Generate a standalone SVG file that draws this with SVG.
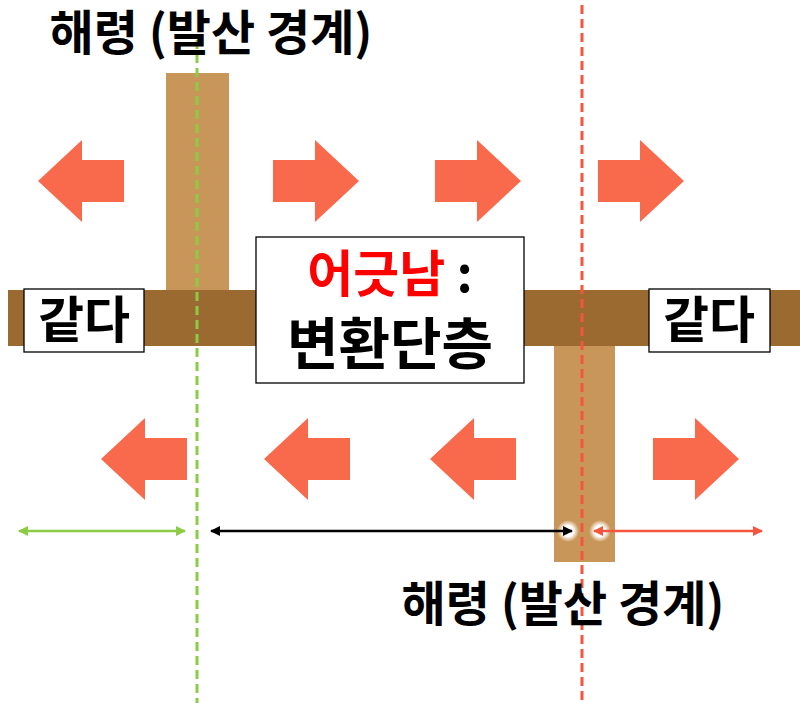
<svg xmlns="http://www.w3.org/2000/svg" width="800" height="703" viewBox="0 0 800 703">
<style>
.t{font-family:"Noto Sans CJK KR","Noto Sans",sans-serif;font-weight:bold;fill:#000}
.ar{fill:#F9694C}
.box{fill:#fff;stroke:#000;stroke-width:1.3}
</style>
<defs>
<marker id="mg" viewBox="0 0 10 10" refX="9" refY="5" markerWidth="4" markerHeight="4" orient="auto-start-reverse"><path d="M0,0L10,5L0,10z" fill="#8CCB46"/></marker>
<marker id="mk" viewBox="0 0 10 10" refX="9" refY="5" markerWidth="4" markerHeight="4" orient="auto-start-reverse"><path d="M0,0L10,5L0,10z" fill="#000"/></marker>
<marker id="mr" viewBox="0 0 10 10" refX="9" refY="5" markerWidth="4" markerHeight="4" orient="auto-start-reverse"><path d="M0,0L10,5L0,10z" fill="#F4553F"/></marker>
<radialGradient id="gl"><stop offset="0.5" stop-color="#fff"/><stop offset="1" stop-color="#fff" stop-opacity="0"/></radialGradient>
<path id="R" d="M0,-21H42V-41L86,0L42,41V21H0z"/>
<path id="L" d="M86,-21H44V-41L0,0L44,41V21H86z"/>
</defs>
<g id="band"><rect x="8" y="290" width="792" height="56" fill="#9A6A31"/></g>
<g id="topPlate"><rect x="166" y="73" width="63" height="217" fill="#C9965A"/></g>
<g id="bottomPlate"><rect x="554" y="346" width="61" height="216" fill="#C9965A"/></g>
<g id="arrows" class="ar">
<use href="#L" x="38" y="181"/>
<use href="#R" x="273" y="181"/>
<use href="#R" x="435" y="181"/>
<use href="#R" x="598" y="181"/>
<use href="#L" x="101" y="459"/>
<use href="#L" x="264" y="459"/>
<use href="#L" x="430" y="459"/>
<use href="#R" x="653" y="459"/>
</g>
<g id="glow"><circle cx="568" cy="531" r="11" fill="url(#gl)"/><circle cx="600" cy="531" r="11" fill="url(#gl)"/></g>
<g id="connectors">
<line x1="197" y1="40" x2="197" y2="703" stroke="#8CCB46" stroke-width="3" stroke-dasharray="9,5"/>
<line x1="582" y1="5" x2="582" y2="703" stroke="#F4553F" stroke-width="3" stroke-dasharray="9,5"/>
<line x1="19" y1="531" x2="185" y2="531" stroke="#8CCB46" stroke-width="2.5" marker-start="url(#mg)" marker-end="url(#mg)"/>
<line x1="211" y1="531" x2="572" y2="531" stroke="#000" stroke-width="2.5" marker-start="url(#mk)" marker-end="url(#mk)"/>
<line x1="594" y1="531" x2="762" y2="531" stroke="#F4553F" stroke-width="2.5" marker-start="url(#mr)" marker-end="url(#mr)"/>
</g>
<g id="centerBox"><rect class="box" x="256" y="237" width="268" height="146"/>
<text class="t" x="390" y="292" font-size="50" text-anchor="middle"><tspan fill="#FF0000">어긋남</tspan> :</text>
<text class="t" x="390" y="364" font-size="56" text-anchor="middle">변환단층</text></g>
<g id="leftBox"><rect class="box" x="24" y="289" width="120" height="63"/><text class="t" x="84" y="338" font-size="50" text-anchor="middle">같다</text></g>
<g id="rightBox"><rect class="box" x="649" y="289" width="121" height="63"/><text class="t" x="709" y="338" font-size="50" text-anchor="middle">같다</text></g>
<g id="labelTop"><text class="t" x="211" y="50" font-size="48" text-anchor="middle">해령 (발산 경계)</text></g>
<g id="labelBottom"><text class="t" x="563" y="621" font-size="48" text-anchor="middle">해령 (발산 경계)</text></g>
</svg>
